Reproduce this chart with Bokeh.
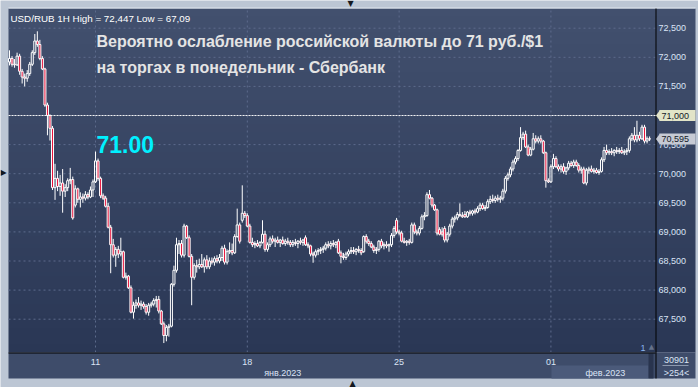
import numpy as np
from bokeh.plotting import figure
from bokeh.models import Range1d, Label, ColumnDataSource
from bokeh.core.properties import value
from bokeh.embed import file_html
from bokeh.resources import INLINE

# Hourly USD/RUB candles, oldest first
opens = [71.92, 71.98, 71.88, 71.87, 72.02, 71.76, 71.66, 71.64, 71.72, 71.88,
         72.08, 72.28, 72.22, 71.98, 71.80, 71.18, 71.00, 70.78, 69.76, 69.92,
         69.78, 69.84, 69.70, 69.76, 69.88, 69.90, 69.46, 69.74, 69.56, 69.60,
         69.58, 69.64, 69.60, 69.72, 69.86, 70.22, 69.92, 69.62, 69.58, 69.44,
         69.08, 68.78, 68.60, 68.70, 68.62, 68.66, 68.22, 68.24, 68.04, 67.62,
         67.74, 67.78, 67.74, 67.76, 67.72, 67.62, 67.74, 67.76, 67.82, 67.84,
         67.64, 67.42, 67.22, 67.36, 67.38, 68.10, 68.34, 68.78, 68.80, 68.60,
         69.10, 68.90, 68.58, 68.22, 68.42, 68.40, 68.44, 68.40, 68.52, 68.40,
         68.50, 68.48, 68.54, 68.50, 68.56, 68.72, 68.48, 68.66, 68.68, 68.64,
         68.92, 69.12, 69.20, 69.32, 69.28, 69.10, 68.82, 68.78, 68.80, 68.76,
         68.82, 68.96, 68.70, 68.78, 68.88, 68.84, 68.86, 68.82, 68.86, 68.80,
         68.84, 68.82, 68.78, 68.82, 68.80, 68.84, 68.82, 68.90, 68.78, 68.76,
         68.62, 68.60, 68.66, 68.68, 68.70, 68.72, 68.78, 68.76, 68.80, 68.78,
         68.84, 68.64, 68.58, 68.56, 68.62, 68.66, 68.68, 68.66, 68.70, 68.68,
         68.66, 68.92, 68.84, 68.80, 68.74, 68.68, 68.70, 68.84, 68.76, 68.78,
         68.76, 68.78, 68.94, 69.20, 69.00, 68.98, 68.84, 68.82, 68.84, 68.82,
         69.12, 69.00, 68.98, 69.06, 69.26, 69.28, 69.64, 69.58, 69.46, 69.38,
         69.04, 69.00, 69.06, 68.86, 68.96, 69.10, 69.22, 69.24, 69.30, 69.28,
         69.30, 69.26, 69.34, 69.32, 69.36, 69.34, 69.40, 69.46, 69.40, 69.42,
         69.52, 69.56, 69.54, 69.58, 69.56, 69.58, 69.70, 69.92, 69.98, 70.08,
         70.20, 70.26, 70.40, 70.62, 70.68, 70.46, 70.32, 70.42, 70.60, 70.56,
         70.60, 70.56, 70.36, 69.88, 69.86, 70.12, 70.26, 70.12, 70.08, 70.12,
         70.04, 70.10, 70.18, 70.14, 70.20, 70.14, 70.06, 70.08, 69.84, 70.06,
         70.08, 70.04, 70.06, 70.02, 70.04, 70.24, 70.40, 70.36, 70.38, 70.36,
         70.40, 70.38, 70.40, 70.36, 70.38, 70.40, 70.60, 70.66, 70.58, 70.66,
         70.60, 70.80, 70.56, 70.60]

highs = [72.12, 72.02, 71.97, 72.08, 72.06, 71.80, 71.72, 71.78, 71.92, 72.12,
         72.40, 72.447, 72.30, 72.02, 71.82, 71.22, 71.02, 70.82, 70.17, 70.05,
         69.98, 70.08, 69.82, 69.92, 70.10, 69.95, 69.80, 69.76, 69.68, 69.66,
         69.70, 69.68, 69.78, 69.90, 70.38, 70.26, 69.95, 69.66, 69.62, 69.50,
         69.12, 68.88, 68.74, 68.76, 68.90, 68.68, 68.30, 68.26, 68.08, 67.80,
         67.84, 67.88, 67.82, 67.80, 67.76, 67.78, 67.80, 67.86, 67.90, 67.90,
         67.66, 67.46, 67.40, 67.42, 68.12, 68.42, 68.90, 68.86, 68.86, 69.14,
         69.12, 68.94, 68.62, 68.46, 68.52, 68.54, 68.62, 68.56, 68.60, 68.56,
         68.56, 68.58, 68.60, 68.62, 68.76, 68.78, 68.70, 68.82, 68.80, 68.96,
         69.40, 69.16, 69.80, 69.36, 69.32, 69.14, 68.90, 68.84, 68.86, 68.84,
         69.20, 69.02, 68.82, 68.92, 68.94, 68.90, 68.92, 68.88, 68.92, 68.88,
         68.90, 68.86, 68.86, 68.88, 68.86, 68.90, 68.88, 68.94, 68.82, 68.78,
         68.66, 68.70, 68.72, 68.74, 68.76, 68.82, 68.84, 68.84, 68.86, 68.84,
         68.88, 68.68, 68.64, 68.66, 68.70, 68.74, 68.74, 68.72, 68.76, 68.72,
         68.94, 68.96, 68.88, 68.84, 68.78, 68.74, 68.86, 68.88, 68.82, 68.84,
         68.80, 68.98, 69.10, 69.24, 69.04, 69.02, 68.90, 68.86, 68.88, 69.16,
         69.16, 69.04, 69.10, 69.30, 69.34, 69.68, 69.72, 69.60, 69.48, 69.40,
         69.08, 69.08, 69.10, 69.00, 69.14, 69.26, 69.28, 69.34, 69.49, 69.34,
         69.36, 69.36, 69.38, 69.38, 69.40, 69.44, 69.50, 69.50, 69.46, 69.56,
         69.62, 69.64, 69.62, 69.64, 69.62, 69.74, 69.96, 70.02, 70.12, 70.24,
         70.30, 70.42, 70.80, 70.72, 70.74, 70.50, 70.46, 70.70, 70.66, 70.64,
         70.66, 70.58, 70.38, 69.92, 70.16, 70.34, 70.30, 70.16, 70.16, 70.18,
         70.12, 70.22, 70.22, 70.24, 70.24, 70.18, 70.12, 70.12, 70.10, 70.12,
         70.14, 70.10, 70.10, 70.08, 70.28, 70.46, 70.50, 70.42, 70.44, 70.42,
         70.46, 70.44, 70.46, 70.42, 70.44, 70.64, 70.70, 70.80, 70.91, 70.72,
         70.84, 70.84, 70.64, 70.64]

lows = [71.86, 71.84, 71.82, 71.85, 71.70, 71.55, 71.50, 71.58, 71.68, 71.85,
        72.04, 72.18, 71.95, 71.78, 71.15, 70.66, 70.57, 69.72, 69.55, 69.70,
        69.62, 69.33, 69.60, 69.70, 69.82, 69.21, 69.42, 69.50, 69.42, 69.50,
        69.54, 69.56, 69.58, 69.60, 69.84, 69.88, 69.58, 69.55, 69.42, 69.06,
        68.29, 68.56, 68.40, 68.55, 68.58, 68.20, 68.18, 68.02, 67.60, 67.51,
        67.68, 67.70, 67.66, 67.68, 67.58, 67.56, 67.70, 67.72, 67.70, 67.60,
        67.40, 67.09, 67.12, 67.20, 67.36, 68.06, 68.30, 68.62, 68.56, 68.56,
        68.88, 68.56, 67.74, 68.18, 68.30, 68.36, 68.38, 68.30, 68.36, 68.36,
        68.44, 68.42, 68.46, 68.46, 68.50, 68.44, 68.44, 68.62, 68.60, 68.62,
        68.90, 68.80, 69.16, 69.24, 69.08, 68.80, 68.74, 68.72, 68.74, 68.72,
        68.80, 68.66, 68.66, 68.74, 68.80, 68.74, 68.80, 68.74, 68.78, 68.76,
        68.78, 68.74, 68.74, 68.76, 68.72, 68.78, 68.76, 68.76, 68.72, 68.58,
        68.47, 68.56, 68.60, 68.62, 68.64, 68.68, 68.72, 68.70, 68.74, 68.72,
        68.62, 68.46, 68.52, 68.52, 68.58, 68.62, 68.62, 68.60, 68.64, 68.60,
        68.64, 68.80, 68.76, 68.72, 68.64, 68.62, 68.66, 68.72, 68.70, 68.72,
        68.66, 68.74, 68.90, 68.96, 68.94, 68.82, 68.80, 68.76, 68.78, 68.80,
        68.96, 68.94, 68.94, 69.04, 69.20, 69.26, 69.56, 69.42, 69.36, 68.94,
        68.94, 68.92, 68.82, 68.82, 68.92, 69.06, 69.16, 69.20, 69.26, 69.24,
        69.24, 69.24, 69.28, 69.28, 69.30, 69.32, 69.36, 69.38, 69.36, 69.40,
        69.48, 69.50, 69.50, 69.52, 69.50, 69.54, 69.66, 69.88, 69.94, 70.04,
        70.16, 70.22, 70.38, 70.58, 70.44, 70.30, 70.30, 70.40, 70.52, 70.52,
        70.52, 70.34, 69.76, 69.84, 69.84, 70.08, 70.10, 70.04, 70.02, 70.00,
        69.98, 70.06, 70.12, 70.10, 70.12, 70.02, 70.00, 69.82, 69.80, 70.00,
        70.02, 70.00, 70.00, 69.98, 70.02, 70.20, 70.32, 70.32, 70.32, 70.30,
        70.34, 70.34, 70.34, 70.32, 70.32, 70.36, 70.56, 70.54, 70.54, 70.56,
        70.58, 70.52, 70.52, 70.56]

closes = [71.98, 71.88, 71.87, 72.02, 71.76, 71.66, 71.64, 71.72, 71.88, 72.08,
          72.28, 72.22, 71.98, 71.80, 71.18, 71.00, 70.78, 69.76, 69.92, 69.78,
          69.84, 69.70, 69.76, 69.88, 69.90, 69.24, 69.74, 69.56, 69.60, 69.58,
          69.64, 69.60, 69.72, 69.86, 70.22, 69.92, 69.62, 69.58, 69.44, 69.08,
          68.78, 68.60, 68.70, 68.62, 68.66, 68.22, 68.24, 68.04, 67.62, 67.74,
          67.78, 67.74, 67.76, 67.72, 67.62, 67.74, 67.76, 67.82, 67.84, 67.64,
          67.42, 67.22, 67.36, 67.38, 68.10, 68.34, 68.78, 68.80, 68.60, 69.10,
          68.90, 68.58, 68.22, 68.42, 68.40, 68.44, 68.40, 68.52, 68.40, 68.50,
          68.48, 68.54, 68.50, 68.56, 68.72, 68.48, 68.66, 68.68, 68.64, 68.92,
          69.12, 68.84, 69.32, 69.28, 69.10, 68.82, 68.78, 68.80, 68.76, 68.82,
          68.96, 68.70, 68.78, 68.88, 68.84, 68.86, 68.82, 68.86, 68.80, 68.84,
          68.82, 68.78, 68.82, 68.80, 68.84, 68.82, 68.86, 68.78, 68.76, 68.62,
          68.60, 68.66, 68.68, 68.70, 68.72, 68.78, 68.76, 68.80, 68.78, 68.82,
          68.64, 68.58, 68.56, 68.62, 68.66, 68.68, 68.66, 68.70, 68.68, 68.64,
          68.92, 68.84, 68.80, 68.74, 68.68, 68.70, 68.84, 68.76, 68.78, 68.76,
          68.78, 68.94, 69.06, 69.00, 68.98, 68.84, 68.82, 68.84, 68.82, 69.12,
          69.00, 68.98, 69.06, 69.26, 69.28, 69.64, 69.58, 69.46, 69.38, 68.98,
          68.96, 68.96, 68.86, 68.96, 69.10, 69.22, 69.24, 69.30, 69.28, 69.26,
          69.26, 69.34, 69.32, 69.36, 69.34, 69.40, 69.46, 69.40, 69.42, 69.52,
          69.56, 69.54, 69.58, 69.56, 69.58, 69.70, 69.92, 69.98, 70.08, 70.20,
          70.26, 70.40, 70.62, 70.68, 70.46, 70.32, 70.42, 70.60, 70.56, 70.60,
          70.56, 70.36, 69.88, 69.86, 70.12, 70.26, 70.12, 70.08, 70.12, 70.04,
          70.10, 70.18, 70.14, 70.20, 70.14, 70.06, 70.08, 69.84, 70.06, 70.08,
          70.04, 70.06, 70.02, 70.04, 70.24, 70.40, 70.36, 70.38, 70.36, 70.40,
          70.38, 70.40, 70.36, 70.38, 70.40, 70.60, 70.66, 70.58, 70.66, 70.60,
          70.80, 70.56, 70.60, 70.595]

# Scale ticks and labels
price_ticks = [67.5, 68.0, 68.5, 69.0, 69.5, 70.0, 70.5, 71.0, 71.5, 72.0, 72.5]
price_labels = ["67,500", "68,000", "68,500", "69,000", "69,500", "70,000",
                "70,500", "71,000", "71,500", "72,000", "72,500"]
day_ticks = [34, 94, 154, 214]          # bar index where each labelled day starts
day_labels = ["11", "18", "25", "01"]
month_ticks = [108, 235.5]
month_labels = ["янв.2023", "фев.2023"]
bar_count_labels = ["30901", ">254<"]

forecast_level = 71.0
headline = ["Вероятно ослабление российской валюты до 71 руб./$1",
            "на торгах в понедельник - Сбербанк"]

# Palette
FRAME = "#bcc6d4"
BG_TOP = (0x42, 0x50, 0x6e)
BG_BOT = (0x2a, 0x37, 0x55)
BAND = "#3e4c6a"
RED = "#e8123a"
LABEL_CLR = "#dbe4f5"
FONT = value("Liberation Sans")

# Terminal geometry: bar spacing and price scale in screen pixels
W, H = 698, 387
BAR0, BAR_PX = 9.0, 2.53
REF_PX, REF_PRICE, PX_PER_RUB = 115.0, 71.0, 58.2


def xd(px):
    return (px - BAR0) / BAR_PX


def yd(py):
    return REF_PRICE - (py - REF_PX) / PX_PER_RUB


PLOT_L, PLOT_R, PLOT_T, PLOT_B = 8, 655, 8, 352
PANEL_R, BAND_B = 695, 378

n = len(closes)
idx = list(range(n))
body_top = [max(o, c) for o, c in zip(opens, closes)]
body_bot = [min(o, c) for o, c in zip(opens, closes)]
rising = [c >= o for o, c in zip(opens, closes)]


def pick(mask):
    return ColumnDataSource(dict(
        x=[i for i, m in zip(idx, mask) if m],
        top=[t for t, m in zip(body_top, mask) if m],
        bottom=[b for b, m in zip(body_bot, mask) if m]))


wicks = ColumnDataSource(dict(x=idx, high=highs, low=lows, top=body_top, bottom=body_bot))

p = figure(width=W, height=H,
           x_range=Range1d(xd(0), xd(W)), y_range=Range1d(yd(H), yd(0)),
           x_axis_type=None, y_axis_type=None,
           toolbar_location=None, output_backend="svg",
           min_border=0, border_fill_color=FRAME, background_fill_color=FRAME,
           outline_line_color=None)
p.title.visible = False

# chart panel with vertical shading
rows = 86
shade = np.zeros((rows, 2), dtype=np.uint32)
view = shade.view(dtype=np.uint8).reshape((rows, 2, 4))
for r in range(rows):
    t = r / (rows - 1)          # 0 at the bottom row, 1 at the top
    for ch in range(3):
        view[r, :, ch] = int(round(BG_BOT[ch] + (BG_TOP[ch] - BG_BOT[ch]) * t))
    view[r, :, 3] = 255
p.image_rgba(image=[shade], x=xd(PLOT_L), y=yd(PLOT_B),
             dw=xd(PANEL_R) - xd(PLOT_L), dh=yd(PLOT_T) - yd(PLOT_B), level="image")

# time-scale band under the plot
p.quad(left=xd(PLOT_L), right=xd(PANEL_R), top=yd(PLOT_B), bottom=yd(BAND_B),
       fill_color=BAND, line_color=None)
p.quad(left=xd(551), right=xd(648), top=yd(365), bottom=yd(BAND_B),
       fill_color="#4b5a7a", line_color=None)
p.quad(left=xd(648), right=xd(653), top=yd(353), bottom=yd(BAND_B),
       fill_color="#29344e", line_color=None)
p.quad(left=xd(PLOT_L), right=xd(PANEL_R), top=yd(PLOT_T - 1), bottom=yd(PLOT_T),
       fill_color="#dfe5ee", line_color=None)

# grid
p.segment(x0=xd(PLOT_L), x1=xd(PLOT_R), y0=price_ticks, y1=price_ticks,
          line_color="#5d6b8c", line_dash="2 3", line_width=1)
p.segment(x0=day_ticks, x1=day_ticks, y0=yd(PLOT_B), y1=yd(PLOT_T),
          line_color="#5d6b8c", line_dash="2 3", line_width=1)

# scale lines
p.segment(x0=[xd(PLOT_R + 0.5)], x1=[xd(PLOT_R + 0.5)], y0=[yd(PLOT_T)], y1=[yd(BAND_B)],
          line_color="black", line_width=1)
p.segment(x0=[xd(PLOT_L)], x1=[xd(PLOT_R)], y0=[yd(PLOT_B + 0.5)], y1=[yd(PLOT_B + 0.5)],
          line_color="black", line_width=1)
p.quad(left=xd(662), right=xd(688), top=yd(364.5), bottom=yd(365.5),
       fill_color="#8d99ae", line_color=None)

# candles
p.segment(x0="x", y0="high", x1="x", y1="top", source=wicks, line_color="white", line_width=1)
p.segment(x0="x", y0="bottom", x1="x", y1="low", source=wicks, line_color="white", line_width=1)
p.vbar(x="x", width=0.8, top="top", bottom="bottom", source=pick(rising),
       fill_alpha=0, line_color="white", line_width=1)
p.vbar(x="x", width=0.8, top="top", bottom="bottom", source=pick([not r for r in rising]),
       fill_color=RED, line_color="white", line_width=1)

# forecast level line
p.segment(x0=[xd(PLOT_L)], x1=[xd(PLOT_R)], y0=[forecast_level], y1=[forecast_level],
          line_color="#f2f2f2", line_dash="2 1", line_width=1)

# price scale labels
p.text(x=xd(658), y=price_ticks, text=price_labels, text_font=FONT,
       text_font_size="9px", text_color=LABEL_CLR, text_baseline="middle")


def price_tag(level, fill):
    half = 0.095
    p.quad(left=xd(659), right=xd(PANEL_R), top=level + half, bottom=level - half,
           fill_color=fill, line_color=None)
    p.patch(x=[xd(655.5), xd(659.5), xd(659.5)], y=[level, level + half, level - half],
            fill_color=fill, line_color=None)
    p.text(x=[xd(661)], y=[level], text=[("%.3f" % level).replace(".", ",")],
           text_font=FONT, text_font_size="9px", text_color="#141a28",
           text_baseline="middle")


price_tag(forecast_level, "#e2e4c8")
price_tag(closes[-1], "#c6cad4")

# time scale labels
p.text(x=day_ticks, y=yd(361), text=day_labels, text_font=FONT, text_font_size="9px",
       text_color=LABEL_CLR, text_align="center", text_baseline="middle")
p.text(x=month_ticks, y=yd(372), text=month_labels, text_font=FONT, text_font_size="9px",
       text_color=LABEL_CLR, text_align="center", text_baseline="middle")
p.text(x=xd(676), y=[yd(359), yd(372)], text=bar_count_labels, text_font=FONT,
       text_font_size="9px", text_color=LABEL_CLR, text_align="center",
       text_baseline="middle")


def put(text, x, y, size, color, bold=False, align="left", baseline="alphabetic",
        font="Liberation Sans"):
    p.add_layout(Label(x=x, y=y, x_units="canvas", y_units="canvas", text=text,
                       text_font=font, text_font_size=f"{size}px", text_color=color,
                       text_font_style="bold" if bold else "normal",
                       text_align=align, text_baseline=baseline))


hi, lo = max(highs), min(lows)
put("USD/RUB 1H High = %s Low = %s" % (("%.3f" % hi).replace(".", ","),
                                        ("%.2f" % lo).replace(".", ",")),
    10, 18, 9.8, "white")
put(headline[0], 96, 41, 16, "#e4e4e4", bold=True)
put(headline[1], 96, 67, 16, "#e4e4e4", bold=True)
put("%.2f" % forecast_level, 96, 144, 23, "#00f0ff", bold=True)

put("1", 640, 347, 9, "#8ab4ee", baseline="middle")
put("▲", 651, 346, 7, "#66728a", align="center", baseline="middle", font="DejaVu Sans")

# scroll markers on the outer frame
put("▶", 0, 172, 8, "#141820", baseline="middle", font="DejaVu Sans")
put("▼", 350, 3, 8, "#141820", align="center", baseline="middle", font="DejaVu Sans")
put("▲", 352, 383, 8, "#141820", align="center", baseline="middle", font="DejaVu Sans")

open("out.html", "w").write(file_html(p, INLINE))
